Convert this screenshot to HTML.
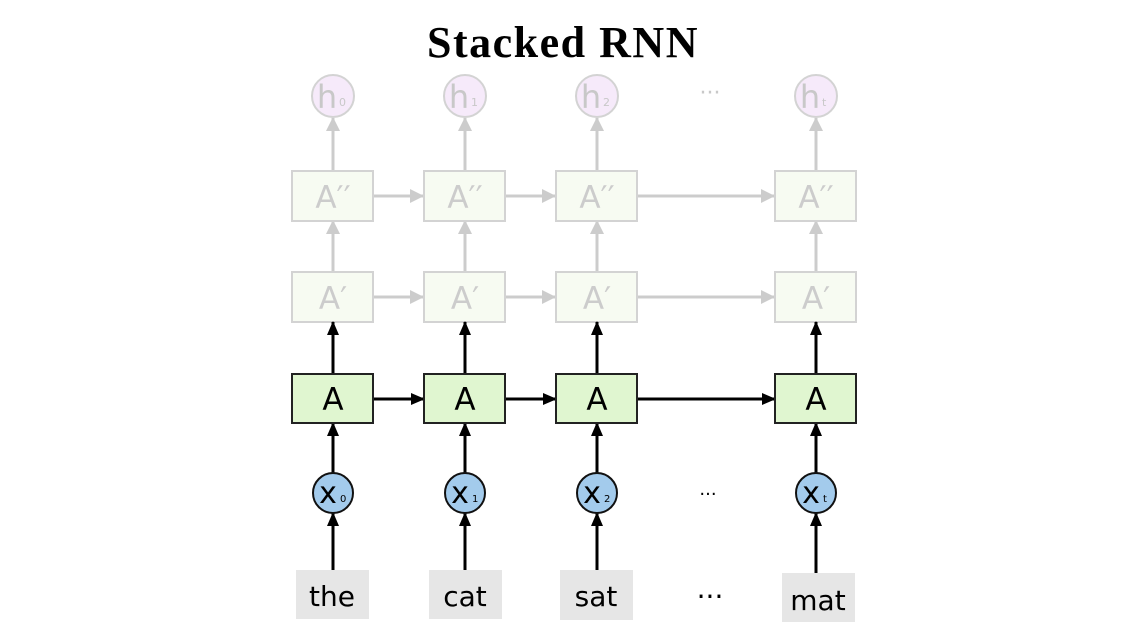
<!DOCTYPE html>
<html><head><meta charset="utf-8"><style>html,body{margin:0;padding:0;background:#fff}svg{display:block}</style></head>
<body>
<svg width="1127" height="635" viewBox="0 0 1127 635" xmlns="http://www.w3.org/2000/svg" font-family="'DejaVu Sans','Liberation Sans',sans-serif">
<defs>
<marker id="ab" markerWidth="14" markerHeight="14" refX="13" refY="7" orient="auto" markerUnits="userSpaceOnUse"><path d="M0,1 L14,7 L0,13 z" fill="#000"/></marker>
<marker id="ag" markerWidth="14" markerHeight="16" refX="13" refY="8" orient="auto" markerUnits="userSpaceOnUse"><path d="M0,1 L14,8 L0,15 z" fill="#cccccc"/></marker>
</defs>
<rect width="1127" height="635" fill="#fff"/>
<text x="563" y="57" text-anchor="middle" font-family="'Liberation Serif',serif" font-weight="bold" font-size="44" letter-spacing="1.5">Stacked RNN</text>

<g stroke="#cccccc" stroke-width="3" fill="none">
<line x1="333" y1="171" x2="333" y2="118" marker-end="url(#ag)"/>
<line x1="465" y1="171" x2="465" y2="118" marker-end="url(#ag)"/>
<line x1="597" y1="171" x2="597" y2="118" marker-end="url(#ag)"/>
<line x1="816" y1="171" x2="816" y2="118" marker-end="url(#ag)"/>
<line x1="333" y1="272" x2="333" y2="221" marker-end="url(#ag)"/>
<line x1="465" y1="272" x2="465" y2="221" marker-end="url(#ag)"/>
<line x1="597" y1="272" x2="597" y2="221" marker-end="url(#ag)"/>
<line x1="816" y1="272" x2="816" y2="221" marker-end="url(#ag)"/>
<line x1="374" y1="196" x2="423" y2="196" marker-end="url(#ag)"/>
<line x1="506" y1="196" x2="555" y2="196" marker-end="url(#ag)"/>
<line x1="638" y1="196" x2="774" y2="196" marker-end="url(#ag)"/>
<line x1="374" y1="297" x2="423" y2="297" marker-end="url(#ag)"/>
<line x1="506" y1="297" x2="555" y2="297" marker-end="url(#ag)"/>
<line x1="638" y1="297" x2="774" y2="297" marker-end="url(#ag)"/>
</g>
<g fill="#f7fbf2" stroke="#d3d3d3" stroke-width="2">
<rect x="292" y="171" width="81" height="50"/><rect x="424" y="171" width="81" height="50"/><rect x="556" y="171" width="81" height="50"/><rect x="775" y="171" width="81" height="50"/>
<rect x="292" y="272" width="81" height="50"/><rect x="424" y="272" width="81" height="50"/><rect x="556" y="272" width="81" height="50"/><rect x="775" y="272" width="81" height="50"/>
</g>
<g fill="#cccccc" font-size="31" text-anchor="middle">
<text x="333" y="208">A′′</text><text x="465" y="208">A′′</text><text x="597" y="208">A′′</text><text x="816" y="208">A′′</text>
<text x="333" y="309">A′</text><text x="465" y="309">A′</text><text x="597" y="309">A′</text><text x="816" y="309">A′</text>
</g>
<g fill="#f6eafa" stroke="#d3d3d3" stroke-width="2">
<circle cx="333" cy="96" r="21"/><circle cx="465" cy="96" r="21"/><circle cx="597" cy="96" r="21"/><circle cx="816" cy="96" r="21"/>
</g>
<g fill="#c8c8c8">
<text x="327" y="108" font-size="32" text-anchor="middle">h</text><text x="339" y="106" font-size="11">0</text>
<text x="459" y="108" font-size="32" text-anchor="middle">h</text><text x="471" y="106" font-size="11">1</text>
<text x="591" y="108" font-size="32" text-anchor="middle">h</text><text x="603" y="106" font-size="11">2</text>
<text x="810" y="108" font-size="32" text-anchor="middle">h</text><text x="822" y="106" font-size="11">t</text>
<text x="710" y="100" font-size="22" text-anchor="middle">···</text>
</g>

<g stroke="#000" stroke-width="3" fill="none">
<line x1="333" y1="374" x2="333" y2="322" marker-end="url(#ab)"/>
<line x1="465" y1="374" x2="465" y2="322" marker-end="url(#ab)"/>
<line x1="597" y1="374" x2="597" y2="322" marker-end="url(#ab)"/>
<line x1="816" y1="374" x2="816" y2="322" marker-end="url(#ab)"/>
<line x1="333" y1="473" x2="333" y2="423" marker-end="url(#ab)"/>
<line x1="465" y1="473" x2="465" y2="423" marker-end="url(#ab)"/>
<line x1="597" y1="473" x2="597" y2="423" marker-end="url(#ab)"/>
<line x1="816" y1="473" x2="816" y2="423" marker-end="url(#ab)"/>
<line x1="333" y1="571" x2="333" y2="513" marker-end="url(#ab)"/>
<line x1="465" y1="571" x2="465" y2="513" marker-end="url(#ab)"/>
<line x1="597" y1="571" x2="597" y2="513" marker-end="url(#ab)"/>
<line x1="816" y1="574" x2="816" y2="513" marker-end="url(#ab)"/>
<line x1="374" y1="399" x2="424" y2="399" marker-end="url(#ab)"/>
<line x1="506" y1="399" x2="556" y2="399" marker-end="url(#ab)"/>
<line x1="638" y1="399" x2="775" y2="399" marker-end="url(#ab)"/>
</g>
<g fill="#e0f6d0" stroke="#222" stroke-width="2">
<rect x="292" y="374" width="81" height="49"/><rect x="424" y="374" width="81" height="49"/><rect x="556" y="374" width="81" height="49"/><rect x="775" y="374" width="81" height="49"/>
</g>
<g fill="#000" font-size="31" text-anchor="middle">
<text x="333" y="410">A</text><text x="465" y="410">A</text><text x="597" y="410">A</text><text x="816" y="410">A</text>
</g>
<g fill="#a3cbec" stroke="#111" stroke-width="2">
<circle cx="333" cy="493" r="20"/><circle cx="465" cy="493" r="20"/><circle cx="597" cy="493" r="20"/><circle cx="816" cy="493" r="20"/>
</g>
<g fill="#000">
<text x="328" y="503" font-size="30" text-anchor="middle">x</text><text x="340" y="502" font-size="10">0</text>
<text x="460" y="503" font-size="30" text-anchor="middle">x</text><text x="472" y="502" font-size="10">1</text>
<text x="592" y="503" font-size="30" text-anchor="middle">x</text><text x="604" y="502" font-size="10">2</text>
<text x="811" y="503" font-size="30" text-anchor="middle">x</text><text x="823" y="502" font-size="10">t</text>
<text x="708" y="500" font-size="18" text-anchor="middle">···</text>
</g>

<g fill="#e6e6e6">
<rect x="296" y="570" width="73" height="49"/><rect x="429" y="570" width="73" height="49"/><rect x="560" y="570" width="73" height="50"/><rect x="782" y="573" width="73" height="49"/>
</g>
<g fill="#000" font-size="28" text-anchor="middle">
<text x="332" y="606">the</text><text x="465" y="606">cat</text><text x="596" y="606">sat</text><text x="818" y="610">mat</text>
<text x="710" y="606">···</text>
</g>
</svg>
</body></html>
